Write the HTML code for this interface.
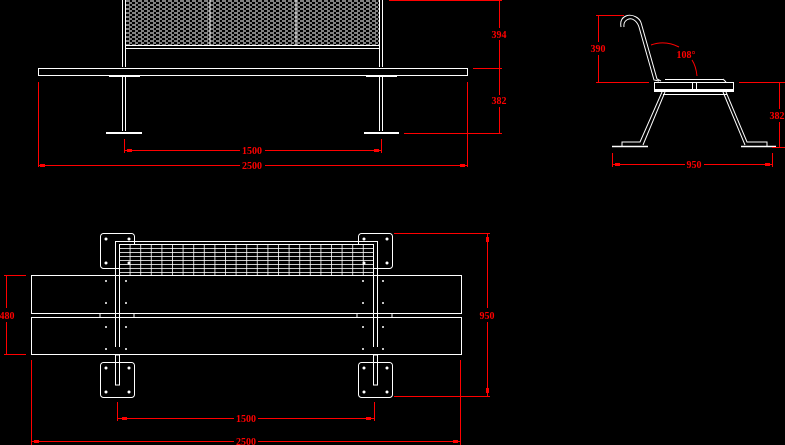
<!DOCTYPE html>
<html><head><meta charset="utf-8"><style>
html,body{margin:0;padding:0;background:#000;}
svg{display:block}
text{font-family:"Liberation Serif",serif;font-size:10px;font-weight:bold;fill:#f00;text-anchor:middle;}
</style></head><body>
<svg width="785" height="445" viewBox="0 0 785 445" xmlns="http://www.w3.org/2000/svg">
<defs>
<pattern id="mesh" width="6" height="4" patternUnits="userSpaceOnUse">
<rect width="6" height="4" fill="#000"/>
<line x1="0" y1="1" x2="4" y2="1" stroke="#fff" stroke-width="1"/>
<line x1="3" y1="3" x2="6" y2="3" stroke="#fff" stroke-width="1"/>
</pattern>
<pattern id="grid" width="10.6" height="4" patternUnits="userSpaceOnUse" x="119" y="244">
<rect width="10.6" height="4" fill="#000"/>
<line x1="0" y1="0.5" x2="10.6" y2="0.5" stroke="#fff" stroke-width="0.8"/>
<line x1="0.5" y1="0" x2="0.5" y2="4" stroke="#fff" stroke-width="0.8"/>
</pattern>
</defs>
<g fill="none" stroke="#fff" stroke-width="1">
<!-- FRONT VIEW -->
<rect x="126" y="0" width="253" height="45" fill="url(#mesh)" stroke="none"/>
<line x1="210" y1="0" x2="210" y2="45"/><line x1="296" y1="0" x2="296" y2="45"/>
<line x1="122.5" y1="0" x2="122.5" y2="67"/><line x1="125.5" y1="0" x2="125.5" y2="67"/>
<line x1="379.5" y1="0" x2="379.5" y2="67"/><line x1="382.5" y1="0" x2="382.5" y2="67"/>
<line x1="125" y1="45.5" x2="380" y2="45.5"/><line x1="125" y1="48.5" x2="380" y2="48.5"/>
<rect x="38.5" y="68.5" width="429" height="7"/>
<line x1="109" y1="76.5" x2="140" y2="76.5"/><line x1="366" y1="76.5" x2="397" y2="76.5"/>
<line x1="122.5" y1="76" x2="122.5" y2="131"/><line x1="125.5" y1="76" x2="125.5" y2="131"/>
<line x1="379.5" y1="76" x2="379.5" y2="131"/><line x1="382.5" y1="76" x2="382.5" y2="131"/>
<line x1="106" y1="133" x2="142" y2="133" stroke-width="2"/><line x1="364" y1="133" x2="399" y2="133" stroke-width="2"/>

<!-- SIDE VIEW -->
<path d="M621,27 C619,16 629,13 636,17 C640,19 641,22 642,26 L657,79 L661,81"/>
<path d="M624,27 C623,20 630,17 634,20 C637,22 638,24 639,27 L654,80 L659,81"/>
<line x1="665" y1="79.5" x2="723" y2="79.5"/><line x1="723" y1="79" x2="726" y2="82"/>
<rect x="654.5" y="82.5" width="79" height="7"/>
<line x1="692.5" y1="82" x2="692.5" y2="90"/><line x1="696.5" y1="82" x2="696.5" y2="90"/>
<line x1="654" y1="91" x2="734" y2="91" stroke-width="2"/>
<line x1="663" y1="94.5" x2="727" y2="94.5"/>
<path d="M662,92 L640,142 L622,142 L622,146"/>
<path d="M665,92 L643,145"/>
<path d="M726,92 L747,142 L767,142 L767,146"/>
<path d="M723,92 L745,145"/>
<line x1="612" y1="146.5" x2="648" y2="146.5" stroke-width="1.5"/>
<line x1="741" y1="146.5" x2="776" y2="146.5" stroke-width="1.5"/>

<!-- PLAN VIEW -->
<rect x="100.5" y="233.5" width="34" height="35" rx="3"/>
<rect x="358.5" y="233.5" width="34" height="35" rx="3"/>
<rect x="100.5" y="362.5" width="34" height="35" rx="3"/>
<rect x="358.5" y="362.5" width="34" height="35" rx="3"/>
<rect x="31.5" y="275.5" width="430" height="38" fill="#000"/>
<rect x="31.5" y="317.5" width="430" height="37" fill="#000"/>
<line x1="100" y1="313" x2="100" y2="317"/><line x1="134" y1="313" x2="134" y2="317"/>
<line x1="357" y1="313" x2="357" y2="317"/><line x1="392" y1="313" x2="392" y2="317"/>
<rect x="119" y="244" width="255" height="31" fill="url(#grid)" stroke="none"/>
<line x1="119" y1="275.5" x2="374" y2="275.5"/>
<path d="M115.5,347 L115.5,241.5 L377.5,241.5 L377.5,347"/>
<path d="M119.5,347 L119.5,244.5 L373.5,244.5 L373.5,347"/>
<rect x="115.5" y="355" width="4" height="30"/>
<rect x="373.5" y="355" width="4" height="30"/>
</g>
<g fill="#fff">
<circle cx="106" cy="239" r="1.5"/><circle cx="129" cy="239" r="1.5"/><circle cx="106" cy="263" r="1.5"/><circle cx="129" cy="263" r="1.5"/>
<circle cx="364" cy="239" r="1.5"/><circle cx="387" cy="239" r="1.5"/><circle cx="364" cy="263" r="1.5"/><circle cx="387" cy="263" r="1.5"/>
<circle cx="106" cy="368" r="1.5"/><circle cx="129" cy="368" r="1.5"/><circle cx="106" cy="392" r="1.5"/><circle cx="129" cy="392" r="1.5"/>
<circle cx="364" cy="368" r="1.5"/><circle cx="387" cy="368" r="1.5"/><circle cx="364" cy="392" r="1.5"/><circle cx="387" cy="392" r="1.5"/>
<circle cx="106" cy="281" r="1"/><circle cx="126" cy="281" r="1"/><circle cx="106" cy="303" r="1"/><circle cx="126" cy="303" r="1"/>
<circle cx="106" cy="327" r="1"/><circle cx="126" cy="327" r="1"/><circle cx="106" cy="349" r="1"/><circle cx="126" cy="349" r="1"/>
<circle cx="363" cy="281" r="1"/><circle cx="383" cy="281" r="1"/><circle cx="363" cy="303" r="1"/><circle cx="383" cy="303" r="1"/>
<circle cx="363" cy="327" r="1"/><circle cx="383" cy="327" r="1"/><circle cx="363" cy="349" r="1"/><circle cx="383" cy="349" r="1"/>
</g>
<!-- DIMENSIONS -->
<g stroke="#f00" stroke-width="1" fill="none">
<line x1="389" y1="0.5" x2="502" y2="0.5"/><line x1="473" y1="68.5" x2="502" y2="68.5"/><line x1="404" y1="133.5" x2="502" y2="133.5"/>
<line x1="499.5" y1="0" x2="499.5" y2="28"/><line x1="499.5" y1="40" x2="499.5" y2="95"/><line x1="499.5" y1="107" x2="499.5" y2="133"/>
<line x1="124.5" y1="139" x2="124.5" y2="153"/><line x1="381.5" y1="139" x2="381.5" y2="153"/>
<line x1="124" y1="150.5" x2="240" y2="150.5"/><line x1="265" y1="150.5" x2="381" y2="150.5"/>
<line x1="38.5" y1="82" x2="38.5" y2="167"/><line x1="467.5" y1="82" x2="467.5" y2="167"/>
<line x1="38" y1="165.5" x2="240" y2="165.5"/><line x1="265" y1="165.5" x2="467" y2="165.5"/>
<line x1="596" y1="15.5" x2="624" y2="15.5"/><line x1="596" y1="82.5" x2="649" y2="82.5"/>
<line x1="598.5" y1="15" x2="598.5" y2="42"/><line x1="598.5" y1="55" x2="598.5" y2="82"/>
<line x1="739" y1="82.5" x2="785" y2="82.5"/><line x1="772" y1="147.5" x2="785" y2="147.5"/>
<line x1="779.5" y1="82" x2="779.5" y2="109"/><line x1="779.5" y1="122" x2="779.5" y2="147"/>
<line x1="612.5" y1="153" x2="612.5" y2="167"/><line x1="772.5" y1="153" x2="772.5" y2="167"/>
<line x1="612" y1="164.5" x2="685" y2="164.5"/><line x1="704" y1="164.5" x2="772" y2="164.5"/>
<path d="M651,45 Q665,40 679,47"/><path d="M692,60 Q696,66 697,76"/>
<line x1="4" y1="275.5" x2="26" y2="275.5"/><line x1="4" y1="354.5" x2="26" y2="354.5"/>
<line x1="6.5" y1="275" x2="6.5" y2="308"/><line x1="6.5" y1="322" x2="6.5" y2="354"/>
<line x1="394" y1="233.5" x2="490" y2="233.5"/><line x1="394" y1="396.5" x2="490" y2="396.5"/>
<line x1="487.5" y1="233" x2="487.5" y2="308"/><line x1="487.5" y1="322" x2="487.5" y2="396"/>
<line x1="117.5" y1="402" x2="117.5" y2="421"/><line x1="374.5" y1="402" x2="374.5" y2="421"/>
<line x1="117" y1="418.5" x2="234" y2="418.5"/><line x1="258" y1="418.5" x2="374" y2="418.5"/>
<line x1="31.5" y1="360" x2="31.5" y2="445"/><line x1="460.5" y1="360" x2="460.5" y2="445"/>
<line x1="31" y1="441.5" x2="234" y2="441.5"/><line x1="258" y1="441.5" x2="460" y2="441.5"/>
</g>
<g fill="#f00">
<rect x="40" y="164" width="5" height="3"/><rect x="460" y="164" width="5" height="3"/>
<rect x="127" y="149" width="5" height="3"/><rect x="374" y="149" width="5" height="3"/>
<rect x="615" y="163" width="5" height="3"/><rect x="765" y="163" width="5" height="3"/>
<rect x="34" y="440" width="5" height="3"/><rect x="453" y="440" width="5" height="3"/>
<rect x="122" y="417" width="5" height="3"/><rect x="366" y="417" width="5" height="3"/>
<rect x="486" y="237" width="3" height="5"/><rect x="486" y="388" width="3" height="5"/>
</g>
<text x="499" y="38">394</text>
<text x="499" y="104">382</text>
<text x="252" y="154">1500</text>
<text x="252" y="169">2500</text>
<text x="598" y="52">390</text>
<text x="686" y="58">108°</text>
<text x="777" y="119">382</text>
<text x="694" y="168">950</text>
<text x="7" y="319">480</text>
<text x="487" y="319">950</text>
<text x="246" y="422">1500</text>
<text x="246" y="445">2500</text>
</svg>
</body></html>
